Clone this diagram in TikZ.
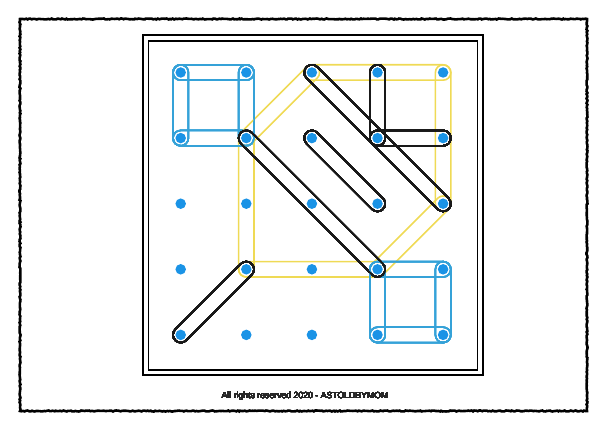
\documentclass[tikz,border=0pt]{standalone}
\usepackage{fontspec}
\setmainfont{Liberation Sans}
\usetikzlibrary{calc,decorations.pathmorphing}
\definecolor{pegblue}{HTML}{1A93E6}
\definecolor{bandblue}{HTML}{35A2D8}
\definecolor{bandyellow}{HTML}{EFDA55}
\newcommand{\band}[3]{\draw[#1] let \p1=($(#3)-(#2)$), \n1={atan2(\y1,\x1)} in
  ($(#2)+(\n1+90:7.7pt)$) -- ($(#3)+(\n1+90:7.7pt)$)
  arc[start angle=\n1+90, delta angle=-180, radius=7.7pt]
  -- ($(#2)+(\n1-90:7.7pt)$)
  arc[start angle=\n1-90, delta angle=-180, radius=7.7pt] -- cycle;}

\begin{document}
\begin{tikzpicture}
[x=1pt, y=1pt,
 peg/.style={circle, fill=pegblue, inner sep=0pt, minimum size=10.5pt},
 blueband/.style={draw=bandblue, line width=1.5pt},
 yellowband/.style={draw=bandyellow, line width=1.6pt},
 blackband/.style={draw=black!90, line width=1.5pt}]
\useasboundingbox (0,0) rectangle (610,431);
% frames
\draw[line width=2.6pt, decorate, decoration={random steps, segment length=1.5pt, amplitude=0.5pt}]
  (20,20) rectangle (587,412);
\draw[line width=1.8pt] (143,56) rectangle (483,396);
\draw[line width=1.3pt] (148.5,61) rectangle (477.5,390);
% pegs
\foreach \c in {0,...,4}
  \foreach \r in {0,...,4}
    \node[peg] (p\c\r) at ({180.7+65.6*\c}, {358.5-65.6*\r}) {};
% rubber bands
\foreach \a/\b in {20/40, 40/42, 42/33, 33/13, 13/11, 11/20}
  \band{yellowband}{p\a}{p\b}
\foreach \a/\b in {00/10, 01/11, 00/01, 10/11, 33/43, 34/44, 33/34, 43/44}
  \band{blueband}{p\a}{p\b}
\foreach \a/\b in {20/42, 11/33, 21/32, 30/31, 31/41, 04/13}
  \band{blackband}{p\a}{p\b}
\node[text=black!85] (credit) at (305,35) {\fontsize{8.7}{10}\selectfont All rights reserved 2020 - ASTOLDBYMOM};
\end{tikzpicture}
\end{document}
